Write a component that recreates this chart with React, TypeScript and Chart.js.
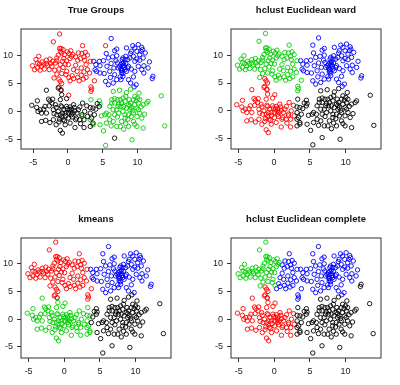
import React, { useEffect, useRef } from "react";
import { Chart, registerables } from "chart.js";

Chart.register(...registerables);

// Each point: [x, y, clusters] where clusters = ward, kmeans, complete colour codes
type Pt = [number, number, string];

const redGroup: Pt[] = [
  [-1.2, 13.9, "grg"], [-2.1, 12.5, "grg"], [-1.2, 11.3, "grg"], [-1.0, 11.3, "grg"],
  [-0.7, 11.1, "grg"], [-1.1, 10.8, "grg"], [-0.9, 10.5, "grg"], [2.1, 11.8, "grb"],
  [0.4, 10.9, "grg"], [0.15, 10.4, "grg"], [0.7, 10.2, "grg"], [-4.2, 9.9, "grg"],
  [-4.6, 9.3, "grg"], [-4.4, 8.7, "grg"], [-3.7, 8.9, "grg"], [-5.1, 8.2, "grg"],
  [-3.1, 9.2, "grg"], [-3.1, 8.6, "grg"], [-3.5, 8.5, "grg"], [-1.8, 8.7, "grg"],
  [-1.6, 9.1, "grg"], [-0.6, 9.5, "grg"], [-0.2, 9.1, "grg"], [0.3, 9.5, "grg"],
  [1.1, 9.8, "grb"], [1.4, 9.2, "grb"], [1.8, 9.5, "grb"], [2.3, 9.8, "grb"],
  [2.8, 10.1, "grb"], [-4.0, 7.4, "grg"], [-3.4, 7.6, "grg"], [-2.7, 7.5, "grg"],
  [-2.3, 8.1, "grg"], [-1.9, 7.4, "grg"], [-1.3, 7.6, "grg"], [-0.7, 7.9, "grg"],
  [-0.4, 8.5, "grg"], [-1.1, 8.4, "grg"], [-0.2, 7.2, "grg"], [0.6, 6.4, "grb"],
  [0.8, 5.9, "grb"], [1.4, 6.1, "grb"], [1.9, 6.5, "grb"], [2.3, 7.1, "grb"],
  [2.8, 7.5, "grb"], [3.1, 6.9, "grb"], [2.6, 8.4, "grb"], [3.2, 9.0, "grb"],
  [1.1, 8.3, "grb"], [1.9, 7.8, "grb"], [-1.3, 5.8, "rrr"], [-1.1, 5.4, "rrr"],
  [-0.9, 5.0, "rrr"], [-1.3, 4.4, "rrr"], [-1.0, 3.9, "rrr"], [0.3, 5.5, "grb"],
  [1.6, 5.5, "grb"], [2.2, 5.8, "grb"], [3.3, 3.6, "grb"], [3.4, 4.0, "grb"],
  [3.3, 4.4, "grb"], [3.8, 5.5, "grb"], [0.1, 2.9, "rgr"], [5.4, 11.8, "bbb"],
  [-4.8, 7.5, "grg"], [-4.4, 7.8, "grg"], [-2.6, 9.4, "grg"], [0.05, 8.4, "grg"],
  [-0.9, 6.8, "grg"], [0.8, 7.5, "grb"], [1.5, 10.5, "grb"], [-1.6, 9.6, "grg"],
  [-2.9, 8.3, "grg"], [2.4, 9.2, "grb"], [2.5, 10.6, "grb"], [-2.0, 6.0, "grg"],
  [-0.3, 6.6, "grg"], [2.6, 6.1, "grb"], [-0.5, 10.2, "grg"], [-0.1, 10.7, "grg"],
  [0.5, 9.9, "grg"], [-1.4, 10.1, "grg"], [-2.2, 9.0, "grg"], [-2.5, 8.6, "grg"],
  [-3.8, 8.1, "grg"], [-4.1, 8.5, "grg"], [-0.8, 9.0, "grg"], [1.3, 7.2, "grb"],
  [0.1, 6.1, "grg"], [-1.6, 6.7, "grg"], [2.0, 10.4, "grb"],
];

const blueGroup: Pt[] = [
  [6.2, 13.1, "bbb"], [6.7, 10.9, "bbb"], [7.0, 11.2, "bbb"], [8.4, 11.4, "bbb"],
  [9.3, 11.8, "bbb"], [9.6, 11.4, "bbb"], [10.1, 12.0, "bbb"], [10.6, 11.5, "bbb"],
  [9.9, 10.8, "bbb"], [10.7, 11.1, "bbb"], [9.0, 10.4, "bbb"], [8.3, 9.9, "bbb"],
  [7.8, 9.3, "bbb"], [8.0, 8.8, "bbb"], [8.6, 9.3, "bbb"], [8.9, 9.6, "bbb"],
  [9.4, 9.9, "bbb"], [9.9, 9.4, "bbb"], [10.3, 9.2, "bbb"], [10.8, 9.6, "bbb"],
  [11.7, 8.9, "bbb"], [11.5, 7.8, "bbb"], [12.2, 6.3, "bbk"], [12.1, 5.9, "bbk"],
  [5.1, 9.1, "bbb"], [5.8, 9.6, "bbb"], [6.4, 9.8, "bbb"], [3.7, 9.0, "bbb"],
  [3.9, 7.5, "bbb"], [4.1, 7.2, "bbb"], [4.6, 8.2, "bbb"], [5.2, 6.8, "bbb"],
  [6.0, 7.2, "bbb"], [6.6, 7.8, "bbb"], [7.1, 8.7, "bbb"], [7.4, 8.1, "bbb"],
  [7.6, 7.7, "bbb"], [7.8, 7.4, "bbb"], [7.8, 8.1, "bbb"], [8.0, 8.3, "bbb"],
  [7.7, 7.0, "bbb"], [7.9, 6.8, "bbb"], [8.2, 7.5, "bbb"], [8.7, 8.1, "bbb"],
  [9.1, 7.6, "bbb"], [9.6, 7.2, "bbb"], [10.1, 8.1, "bbb"], [10.6, 7.5, "bbb"],
  [5.4, 5.4, "bbb"], [5.8, 4.8, "bbb"], [6.5, 5.1, "bbb"], [7.0, 5.7, "bbb"],
  [7.5, 6.2, "bbb"], [7.6, 5.7, "bbb"], [8.7, 5.7, "bbb"], [9.4, 6.2, "bbb"],
  [9.5, 4.4, "bkb"], [9.8, 4.8, "bbb"], [7.0, 10.0, "bbb"], [9.1, 10.8, "bbb"],
  [5.6, 8.1, "bbb"], [6.7, 6.6, "bbb"], [7.8, 8.6, "bbb"], [7.6, 8.4, "bbb"],
  [8.2, 9.3, "bbb"], [8.4, 7.2, "bbb"], [4.6, 6.9, "bbb"], [10.9, 8.2, "bbb"],
  [4.5, 9.0, "bbb"], [4.0, 8.4, "bbb"], [7.9, 6.3, "bbb"], [10.3, 10.2, "bbb"],
  [11.1, 10.5, "bbb"], [7.2, 7.8, "bbb"], [8.1, 7.9, "bbb"], [7.7, 7.3, "bbb"],
  [8.3, 8.6, "bbb"], [7.9, 9.6, "bbb"], [8.6, 7.8, "bbb"], [6.2, 8.6, "bbb"],
  [6.9, 9.1, "bbb"], [9.6, 9.0, "bbb"], [10.5, 10.8, "bbb"], [9.0, 5.1, "bbb"],
  [6.1, 6.1, "bbb"], [10.9, 6.9, "bbb"], [5.5, 10.4, "bbb"],
];

const blackGroup: Pt[] = [
  [-3.1, 3.8, "rgr"], [-4.4, 1.9, "rgr"], [-5.2, 1.1, "rgr"], [-4.5, 0.7, "rgr"],
  [-4.0, 0.3, "rgr"], [-3.8, -0.3, "rgr"], [-4.3, 0.0, "rgr"], [-2.8, 2.2, "rgr"],
  [-2.6, 1.9, "rgr"], [-2.3, 1.5, "rgr"], [-2.7, 1.0, "rgr"], [-2.1, 0.3, "rgr"],
  [-3.1, -0.3, "rgr"], [-3.2, -1.6, "rgr"], [-2.6, -2.0, "rgr"], [-2.1, -1.5, "rgr"],
  [-1.4, 4.2, "rrr"], [-1.0, 3.8, "rgr"], [-0.9, 3.0, "rgr"], [-1.1, 2.1, "rgr"],
  [-0.2, 2.3, "rgr"], [0.2, 0.3, "rgr"], [-1.7, 0.7, "rgr"], [-1.4, 0.0, "rgr"],
  [-1.1, -0.6, "rgr"], [-0.9, -1.0, "rgr"], [-1.2, -1.4, "rgr"], [-0.7, -1.5, "rgr"],
  [-0.3, -0.8, "rgr"], [0.05, -0.3, "rgr"], [0.3, 0.8, "rgr"], [0.5, 0.4, "rgr"],
  [0.8, 1.2, "rgr"], [1.0, 0.1, "rgr"], [1.3, -0.3, "rgr"], [1.7, 0.8, "rgr"],
  [2.0, -0.6, "rgr"], [2.4, 0.0, "rgr"], [2.8, -0.9, "rgr"], [3.2, -0.3, "kgk"],
  [3.4, -1.2, "kgk"], [3.6, -2.1, "kgk"], [3.2, -2.7, "kgk"], [2.3, -2.9, "rgr"],
  [1.0, -2.9, "rgr"], [0.3, -2.1, "rgr"], [-0.4, -2.4, "rgr"], [-1.1, -3.4, "rgr"],
  [-0.8, -3.9, "rgr"], [-1.7, -2.4, "rgr"], [-3.8, -1.8, "rgr"], [-0.2, 0.9, "rgr"],
  [-0.6, 0.3, "rgr"], [-0.9, 0.8, "rgr"], [1.2, -1.2, "rgr"], [1.7, -1.5, "rgr"],
  [4.2, 1.4, "kkk"], [4.5, 0.9, "kkk"], [4.0, 0.4, "kkk"], [3.8, -0.6, "kkk"],
  [6.7, -4.8, "kkk"], [2.7, 1.0, "rgr"], [1.1, -1.5, "rgr"], [-0.4, -0.3, "rgr"],
  [-1.6, -0.6, "rgr"], [-3.3, 0.9, "rgr"], [-2.2, 2.2, "rgr"], [2.1, 1.5, "rgr"],
  [0.7, -0.3, "rgr"], [-1.0, 1.0, "rgr"], [0.05, -1.2, "rgr"], [0.5, -0.6, "rgr"],
  [-0.8, -0.3, "rgr"], [3.2, 0.7, "kgk"], [-0.5, -1.7, "rgr"], [0.6, -1.0, "rgr"],
  [-1.3, -1.9, "rgr"], [0.9, 0.7, "rgr"], [-2.0, -0.4, "rgr"], [1.5, 0.3, "rgr"],
  [-0.1, 0.5, "rgr"], [0.4, -0.1, "rgr"], [-1.8, 1.2, "rgr"], [2.3, -1.5, "rgr"],
  [-3.5, 0.4, "rgr"], [1.8, -2.2, "rgr"], [3.6, 0.6, "kgk"],
];

const greenGroup: Pt[] = [
  [3.3, 2.1, "kgk"], [4.5, 1.9, "kkk"], [4.6, 1.3, "kkk"], [4.8, -0.8, "kkk"],
  [5.3, -0.6, "kkk"], [5.5, -0.3, "kkk"], [5.5, -2.1, "kkk"], [5.1, -3.5, "kkk"],
  [5.4, -6.1, "kkk"], [6.0, 0.9, "kkk"], [6.3, 1.5, "kkk"], [6.7, 2.3, "kkk"],
  [7.1, 2.1, "kkk"], [6.5, 0.3, "kkk"], [6.7, -0.6, "kkk"], [7.0, 0.3, "kkk"],
  [7.3, -0.3, "kkk"], [7.6, 0.9, "kkk"], [7.7, 1.5, "kkk"], [7.9, 2.4, "kkk"],
  [7.4, 3.8, "kkk"], [8.4, 3.4, "kkk"], [8.3, 2.7, "kkk"], [8.8, 2.1, "kkk"],
  [9.0, 1.5, "kkk"], [9.4, 2.1, "kkk"], [9.6, 1.2, "kkk"], [9.9, 0.6, "kkk"],
  [10.1, 1.5, "kkk"], [10.3, 2.1, "kkk"], [10.0, 2.4, "kkk"], [10.8, 1.2, "kkk"],
  [11.3, 1.5, "kkk"], [11.5, 1.8, "kkk"], [13.4, 2.8, "kkk"], [13.9, -2.6, "kkk"],
  [10.8, -3.0, "kkk"], [9.9, -2.7, "kkk"], [9.4, -1.8, "kkk"], [9.1, -0.9, "kkk"],
  [8.7, -0.6, "kkk"], [8.2, -1.2, "kkk"], [7.7, -1.8, "kkk"], [8.3, -2.2, "kkk"],
  [8.7, -2.7, "kkk"], [8.0, -3.2, "kkk"], [7.5, -2.7, "kkk"], [7.0, -2.7, "kkk"],
  [6.5, -1.8, "kkk"], [6.0, -1.5, "kkk"], [9.2, -5.1, "kkk"], [8.9, 0.3, "kkk"],
  [8.4, 0.6, "kkk"], [7.9, 0.0, "kkk"], [9.1, 0.6, "kkk"], [10.3, -0.3, "kkk"],
  [10.6, -1.2, "kkk"], [4.6, -2.4, "kkk"], [3.6, -2.4, "kgk"], [3.2, -1.5, "kgk"],
  [2.0, -0.9, "rgr"], [7.2, 0.9, "kkk"], [9.4, -0.3, "kkk"], [9.9, -0.9, "kkk"],
  [7.5, 2.1, "kkk"], [6.3, 2.1, "kkk"], [8.7, 1.2, "kkk"], [9.6, 2.7, "kkk"],
  [6.7, 1.5, "kkk"], [8.2, -0.6, "kkk"], [10.1, 0.3, "kkk"], [5.9, -0.6, "kkk"],
  [6.5, 3.6, "kkk"], [8.0, 0.9, "kkk"], [8.6, -1.4, "kkk"], [9.3, 0.1, "kkk"],
  [7.3, 1.3, "kkk"], [8.9, 1.0, "kkk"], [7.1, -1.0, "kkk"], [9.8, 1.9, "kkk"],
  [10.5, 0.8, "kkk"], [6.2, -2.6, "kkk"], [11.0, -0.5, "kkk"], [8.2, 1.8, "kkk"],
  [9.6, -2.3, "kkk"], [9.0, 4.0, "kkk"], [10.2, 3.3, "kkk"],
];

const trueGroups: [Pt[], string][] = [
  [blackGroup, "k"],
  [redGroup, "r"],
  [greenGroup, "g"],
  [blueGroup, "b"],
];

const panelTitles = [
  "True Groups",
  "hclust Euclidean ward",
  "kmeans",
  "hclust Euclidean complete",
];

const xTickValues = [-5, 0, 5, 10];
const yTickValues = [-5, 0, 5, 10];

const xLimits: [number, number][] = [
  [-6.75, 14.8],
  [-6.0, 14.9],
  [-6.07, 14.97],
  [-6.1, 15.0],
];
const yLimits: [number, number][] = [
  [-6.75, 14.8],
  [-6.85, 14.7],
  [-7.0, 14.65],
  [-7.0, 14.65],
];

const palette: Record<string, string> = {
  k: "#000000",
  r: "#FF0000",
  g: "#00CD00",
  b: "#0000FF",
};

const FONT = "'Liberation Sans', Arial, Helvetica, sans-serif";
const AXIS_COLOR = "#222222";

const boxPlugin = {
  id: "rBox",
  afterDatasetsDraw(chart: any) {
    const { ctx, chartArea: a } = chart;
    ctx.save();
    ctx.strokeStyle = "#333333";
    ctx.lineWidth = 1;
    ctx.strokeRect(a.left, a.top, a.right - a.left, a.bottom - a.top);
    ctx.restore();
  },
};

function buildDatasets(panel: number) {
  const byColor: Record<string, { x: number; y: number }[]> = { k: [], r: [], g: [], b: [] };
  trueGroups.forEach(([pts, trueCode]) => {
    pts.forEach(([x, y, codes]) => {
      const c = panel === 0 ? trueCode : codes[panel - 1];
      byColor[c].push({ x, y });
    });
  });
  return ["k", "r", "g", "b"].map((c) => ({
    label: c,
    data: byColor[c],
    borderColor: palette[c],
    backgroundColor: "rgba(0,0,0,0)",
    pointRadius: 2.2,
    pointHoverRadius: 2.2,
    pointBorderWidth: 0.9,
    showLine: false,
  }));
}

function axis(values: number[], limits: [number, number], isX: boolean) {
  return {
    type: "linear" as const,
    min: limits[0],
    max: limits[1],
    afterBuildTicks: (s: any) => {
      s.ticks = values.map((v) => ({ value: v }));
    },
    afterFit: (s: any) => {
      if (isX) s.height = 27;
      else s.width = 21;
    },
    grid: {
      drawOnChartArea: false,
      drawTicks: true,
      tickLength: 4,
      color: "#333333",
      lineWidth: 1,
    },
    border: { display: false },
    ticks: {
      color: AXIS_COLOR,
      font: { size: 9, family: FONT },
      padding: isX ? 4 : 4,
      maxRotation: 0,
      minRotation: 0,
      autoSkip: false,
    },
  };
}

function Panel({ index, left, top }: { index: number; left: number; top: number }) {
  const ref = useRef<HTMLCanvasElement>(null);
  useEffect(() => {
    if (!ref.current) return;
    const chart = new Chart(ref.current, {
      type: "scatter",
      data: { datasets: buildDatasets(index) as any },
      options: {
        animation: false,
        responsive: false,
        devicePixelRatio: 1,
        layout: { padding: { top: 29, right: 29, left: 0, bottom: 0 } },
        plugins: {
          legend: { display: false },
          tooltip: { enabled: false },
          title: { display: false },
        },
        scales: {
          x: axis(xTickValues, xLimits[index], true) as any,
          y: axis(yTickValues, yLimits[index], false) as any,
        },
      },
      plugins: [boxPlugin],
    });
    return () => chart.destroy();
  }, [index]);
  return (
    <div style={{ position: "absolute", left, top, width: 200, height: 176 }}>
      <canvas
        ref={ref}
        width={200}
        height={176}
        style={{ position: "absolute", left: 0, top: 0, width: 200, height: 176 }}
      />
      <div
        style={{
          position: "absolute",
          left: 21,
          width: 150,
          top: 3,
          lineHeight: "14px",
          textAlign: "center",
          fontFamily: FONT,
          fontWeight: "bold",
          fontSize: "9.5px",
          color: "#111111",
          whiteSpace: "nowrap",
        }}
      >
        {panelTitles[index]}
      </div>
    </div>
  );
}

export default function App() {
  return (
    <div
      style={{
        position: "absolute",
        left: 0,
        top: 0,
        width: 400,
        height: 385,
        background: "#ffffff",
        overflow: "hidden",
      }}
    >
      <Panel index={0} left={0} top={0} />
      <Panel index={1} left={210} top={0} />
      <Panel index={2} left={0} top={209} />
      <Panel index={3} left={210} top={209} />
    </div>
  );
}
